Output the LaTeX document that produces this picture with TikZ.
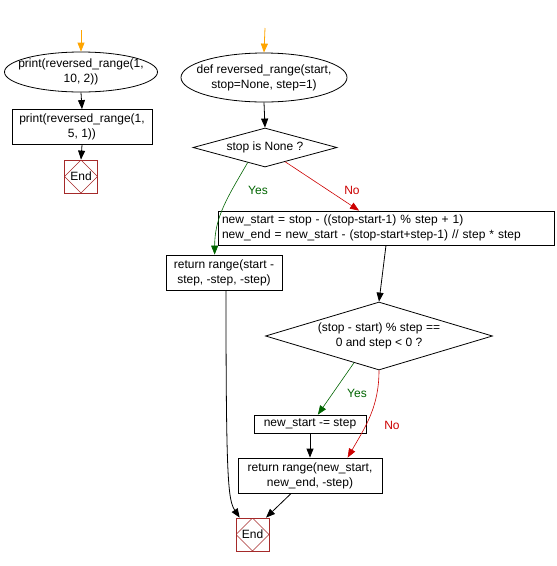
\documentclass[tikz,border=0pt]{standalone}
\usepackage{fontspec}
\setmainfont{Liberation Sans}
\usetikzlibrary{shapes.geometric,arrows.meta,calc}
\definecolor{endred}{HTML}{A52A2A}
\definecolor{yesgreen}{HTML}{006400}
\definecolor{nored}{HTML}{CC0000}
\definecolor{startor}{HTML}{FFA500}
\begin{document}
\begin{tikzpicture}[x=1pt,y=-1pt,
  every node/.style={font=\fontsize{12}{15}\selectfont, line width=0.8pt},
  line width=0.8pt,
  arr/.style={-{Triangle[length=9pt,width=7pt]}},
  startarr/.style={startor, -{Triangle[length=9pt,width=7pt]}},
  yesarr/.style={yesgreen, line width=0.6pt, -{Triangle[length=9pt,width=7pt]}},
  noarr/.style={nored, line width=0.6pt, -{Triangle[length=9pt,width=7pt]}},
  ell/.style={draw, ellipse, inner sep=0pt},
  dia/.style={draw, diamond, inner sep=0pt},
  proc/.style={draw, rectangle, inner sep=0pt, align=center},
  endbox/.style={draw=endred, rectangle, minimum width=33pt, minimum height=33pt, inner sep=0pt,
    path picture={\draw[endred, line width=0.5pt] (path picture bounding box.north) -- (path picture bounding box.east) -- (path picture bounding box.south) -- (path picture bounding box.west) -- cycle;}},
  yeslab/.style={text=yesgreen},
  nolab/.style={text=nored}
]
\useasboundingbox (0,0) rectangle (557,566);

% left column
\coordinate (ls) at (81,30);
\node (le) [ell, minimum width=153pt, minimum height=40pt,
  label={[align=center]center:print(reversed\_range(1,\\10, 2))}] at (81,72) {};
\node (lb) [proc, minimum width=140pt, minimum height=35pt] at (82,127) {print(reversed\_range(1,\\5, 1))};
\node (lend) [endbox] at (81,176.5) {End};
\draw[startarr] (ls) -- (le.north);
\draw[arr] (le.south) -- (lb.north);
\draw[arr] (lb.south) -- (lend.north);

% main column
\coordinate (ms) at (265,28);
\node (me) [ell, minimum width=166pt, minimum height=49pt,
  label={[align=center]center:def reversed\_range(start,\\stop=None, step=1)}] at (264,77.5) {};
\node (d1) [dia, minimum width=144pt, minimum height=39pt,
  label={center:stop is None ?}] at (265,147.5) {};
\node (ns) [proc, minimum width=336pt, minimum height=34pt, text width=328pt, align=left] at (386,228)
  {new\_start = stop - ((stop-start-1) \% step + 1)\\new\_end = new\_start - (stop-start+step-1) // step * step};
\node (r1) [proc, minimum width=116pt, minimum height=35pt] at (224,272.5) {return range(start -\\step, -step, -step)};
\node (d2) [dia, minimum width=227pt, minimum height=68pt,
  label={[align=center]center:(stop - start) \% step ==\\0 and step < 0 ?}] at (379,336) {};
\node (ns2) [proc, minimum width=112pt, minimum height=18pt] at (310,424) {new\_start -= step};
\node (r2) [proc, minimum width=144pt, minimum height=35pt] at (310,475.5) {return range(new\_start,\\new\_end, -step)};
\node (end2) [endbox] at (252.5,534.5) {End};

\draw[startarr] (ms) -- (me.north);
\draw[arr] (me.south) -- (d1.north);
\draw[yesarr] ($(d1.west)!0.76!(d1.south)$) to[out=240, in=90] ($(r1.north west)!0.42!(r1.north east)$);
\node[yeslab] (y1) at (258,190) {Yes};
\draw[noarr] ($(d1.south)!0.28!(d1.east)$) -- ($(ns.north west)!0.42!(ns.north east)$);
\node[nolab] (n1) at (352,190) {No};
\draw[arr] (ns.south) -- (d2.north);
\draw[yesarr] ($(d2.west)!0.78!(d2.south)$) -- ($(ns2.north west)!0.57!(ns2.north east)$);
\node[yeslab] (y2) at (357,393) {Yes};
\draw[noarr] (d2.south) to[out=-90, in=60] ($(r2.north west)!0.76!(r2.north east)$);
\node[nolab] (n2) at (392,425) {No};
\draw[arr] (ns2.south) -- (r2.north);
\draw[arr] ($(r2.south west)!0.37!(r2.south east)$) -- ($(end2.north west)!0.9!(end2.north east)$);
\draw[arr] ($(r1.south)+(2,0)$) .. controls (226,480) and (228,500) .. ($(end2.north west)!0.12!(end2.north east)$);
\end{tikzpicture}
\end{document}
